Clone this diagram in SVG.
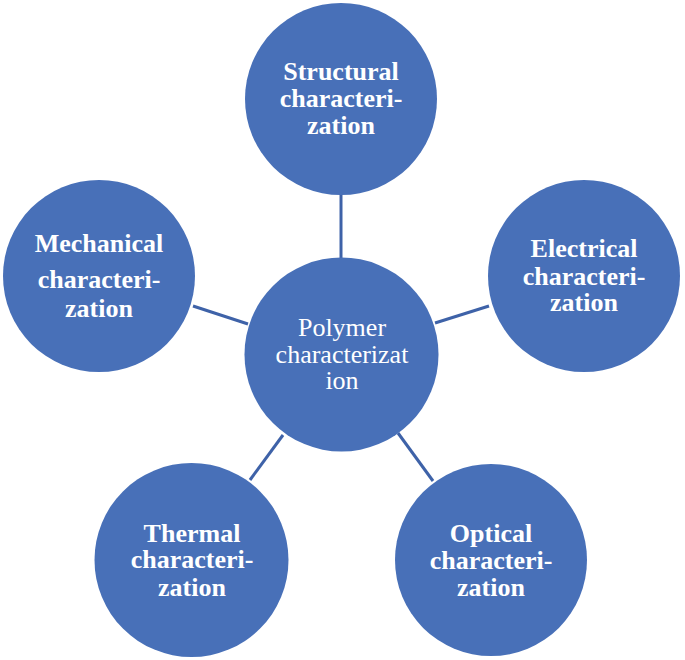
<svg xmlns="http://www.w3.org/2000/svg" width="685" height="660" viewBox="0 0 685 660">
<style>
.c{fill:#4870B8}
.l{stroke:#3E62A8;stroke-width:3;fill:none}
.t{font-family:"Liberation Serif","Times New Roman",serif;font-size:26px;font-weight:bold;fill:#fff;text-anchor:middle}
.m{font-family:"Liberation Serif","Times New Roman",serif;font-size:26px;fill:#fff;text-anchor:middle}
</style>
<rect width="685" height="660" fill="#fff"/>
<g id="connectors">
<line class="l" x1="341" y1="194" x2="341" y2="258"/>
<line class="l" x1="193" y1="306" x2="248" y2="324"/>
<line class="l" x1="435" y1="323" x2="489" y2="306"/>
<line class="l" x1="283" y1="435" x2="250" y2="480"/>
<line class="l" x1="398" y1="433" x2="433" y2="481"/>
</g>
<g id="center">
<circle class="c" cx="341.5" cy="354.5" r="97"/>
<text class="m" x="342" y="336">Polymer</text>
<text class="m" x="342" y="363">characterizat</text>
<text class="m" x="342" y="389">ion</text>
</g>
<g id="structural">
<circle class="c" cx="341" cy="99" r="96"/>
<text class="t" x="341" y="80">Structural</text>
<text class="t" x="341" y="107">characteri-</text>
<text class="t" x="341" y="134">zation</text>
</g>
<g id="mechanical">
<circle class="c" cx="99" cy="276" r="96"/>
<text class="t" x="99" y="252">Mechanical</text>
<text class="t" x="99" y="288">characteri-</text>
<text class="t" x="99" y="317">zation</text>
</g>
<g id="electrical">
<circle class="c" cx="584" cy="276" r="96"/>
<text class="t" x="584" y="257">Electrical</text>
<text class="t" x="584" y="285">characteri-</text>
<text class="t" x="584" y="311">zation</text>
</g>
<g id="thermal">
<circle class="c" cx="191.5" cy="560" r="97"/>
<text class="t" x="192" y="542">Thermal</text>
<text class="t" x="192" y="568">characteri-</text>
<text class="t" x="192" y="596">zation</text>
</g>
<g id="optical">
<circle class="c" cx="491" cy="560" r="96"/>
<text class="t" x="491" y="542">Optical</text>
<text class="t" x="491" y="569">characteri-</text>
<text class="t" x="491" y="596">zation</text>
</g>
</svg>
